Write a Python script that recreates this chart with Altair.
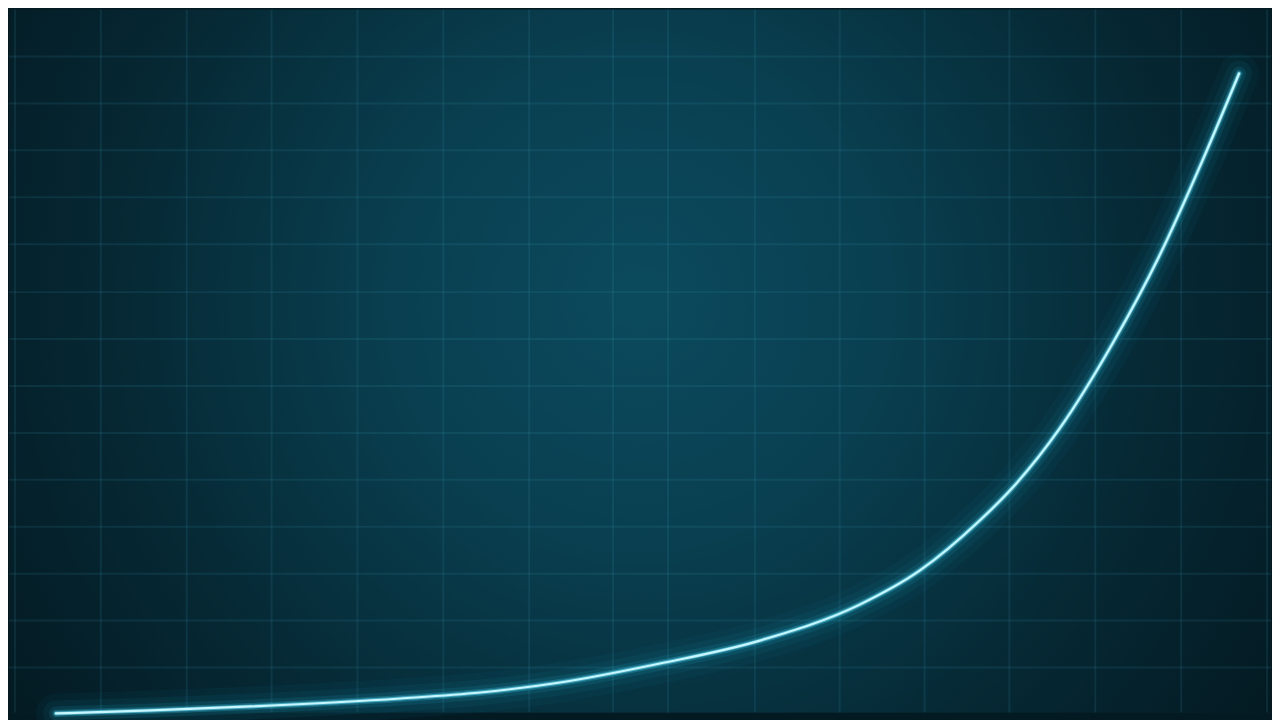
import altair as alt
import pandas as pd

# Curve (x in picture pixels, y = height above the bottom)
curve_x = [55, 150, 250, 400, 480, 560, 660, 760, 860, 920, 980, 1013, 1060, 1113, 1160, 1203, 1240]
curve_y = [7, 10, 14, 22, 28, 38, 57, 80, 116, 150, 200, 233, 292, 377, 465, 560, 648]

# Grid line positions
grid_x = [14, 100, 186, 271, 357, 443, 529, 613, 668, 755, 840, 925, 1010, 1096, 1182, 1268]
grid_y = [665, 618, 571, 524, 477, 429, 382, 335, 288, 241, 194, 147, 100, 53]

W, H = 1264, 704
XD = [8, 1272]
YD = [8, 712]

curve = pd.DataFrame({"x": curve_x, "y": curve_y})
gx = pd.DataFrame({"x": grid_x})
gy = pd.DataFrame({"y": grid_y})
bg = pd.DataFrame({"x": [XD[0]], "x2": [XD[1]], "y": [YD[0]], "y2": [YD[1]]})

xs = alt.Scale(domain=XD, nice=False, zero=False)
ys = alt.Scale(domain=YD, nice=False, zero=False)

gradient = {
    "gradient": "radial",
    "x1": 0.5, "y1": 0.45, "r1": 0,
    "x2": 0.5, "y2": 0.45, "r2": 0.66,
    "stops": [
        {"offset": 0.0, "color": "#0b4a5d"},
        {"offset": 0.3, "color": "#093f50"},
        {"offset": 0.6, "color": "#062a36"},
        {"offset": 1.0, "color": "#03151c"},
    ],
}

background = alt.Chart(bg).mark_rect(fill=gradient, stroke=None).encode(
    x=alt.X("x:Q", scale=xs, axis=None),
    x2="x2:Q",
    y=alt.Y("y:Q", scale=ys, axis=None),
    y2="y2:Q",
)

vlines = alt.Chart(gx).mark_rule(color="#3aa2ba", opacity=0.13, strokeWidth=2).encode(
    x=alt.X("x:Q", scale=xs, axis=None)
)
hlines = alt.Chart(gy).mark_rule(color="#3aa2ba", opacity=0.13, strokeWidth=2).encode(
    y=alt.Y("y:Q", scale=ys, axis=None)
)

def glow(width, color, opacity):
    return alt.Chart(curve).mark_line(
        color=color, strokeWidth=width, opacity=opacity,
        interpolate="monotone", strokeCap="round", strokeJoin="round",
    ).encode(
        x=alt.X("x:Q", scale=xs, axis=None),
        y=alt.Y("y:Q", scale=ys, axis=None),
        order="x:Q",
    )

layers = [
    background, vlines, hlines,
    glow(40, "#1a9cc0", 0.05),
    glow(26, "#1ea8c8", 0.07),
    glow(14, "#24b4d4", 0.12),
    glow(7, "#3cc8e6", 0.25),
    glow(4, "#6adcf2", 0.55),
    glow(2.2, "#c8f6ff", 1.0),
]

chart = alt.layer(*layers).properties(
    width=W, height=H, padding=0, background="#041a22"
).configure_view(stroke=None)

chart.save("out.html", embed_options={"renderer": "svg", "actions": False})
